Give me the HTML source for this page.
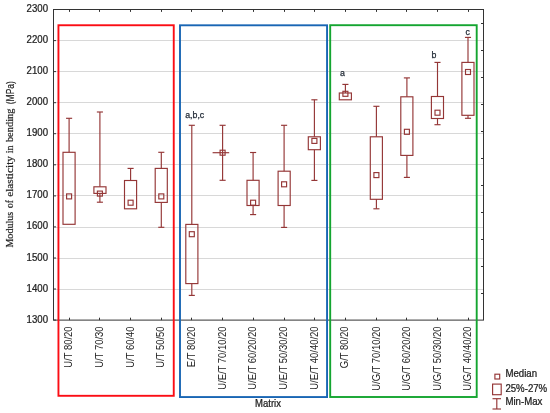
<!DOCTYPE html>
<html><head><meta charset="utf-8"><title>Modulus of elasticity in bending</title>
<style>html,body{margin:0;padding:0;background:#fff}svg{display:block}text{font-family:"Liberation Sans",Arial,sans-serif;fill:#222}</style></head><body>
<svg width="550" height="413" viewBox="0 0 550 413">
<rect width="550" height="413" fill="#ffffff"/>
<g stroke="#d8d8d8" stroke-width="1" shape-rendering="crispEdges">
<line x1="53.5" y1="40.5" x2="483.5" y2="40.5"/>
<line x1="53.5" y1="71.5" x2="483.5" y2="71.5"/>
<line x1="53.5" y1="102.5" x2="483.5" y2="102.5"/>
<line x1="53.5" y1="133.5" x2="483.5" y2="133.5"/>
<line x1="53.5" y1="164.5" x2="483.5" y2="164.5"/>
<line x1="53.5" y1="195.5" x2="483.5" y2="195.5"/>
<line x1="53.5" y1="227.5" x2="483.5" y2="227.5"/>
<line x1="53.5" y1="258.5" x2="483.5" y2="258.5"/>
<line x1="53.5" y1="289.5" x2="483.5" y2="289.5"/>
</g>
<rect x="53.5" y="9.5" width="430.0" height="310.6" fill="none" stroke="#333" stroke-width="1"/>
<g stroke="#333" stroke-width="1">
<line x1="53.5" y1="9.5" x2="56.0" y2="9.5"/>
<line x1="53.5" y1="40.6" x2="56.0" y2="40.6"/>
<line x1="53.5" y1="71.6" x2="56.0" y2="71.6"/>
<line x1="53.5" y1="102.7" x2="56.0" y2="102.7"/>
<line x1="53.5" y1="133.7" x2="56.0" y2="133.7"/>
<line x1="53.5" y1="164.8" x2="56.0" y2="164.8"/>
<line x1="53.5" y1="195.9" x2="56.0" y2="195.9"/>
<line x1="53.5" y1="226.9" x2="56.0" y2="226.9"/>
<line x1="53.5" y1="258.0" x2="56.0" y2="258.0"/>
<line x1="53.5" y1="289.0" x2="56.0" y2="289.0"/>
<line x1="53.5" y1="320.1" x2="56.0" y2="320.1"/>
<line x1="483.5" y1="23.5" x2="481.0" y2="23.5"/>
<line x1="483.5" y1="50.5" x2="481.0" y2="50.5"/>
<line x1="483.5" y1="77.5" x2="481.0" y2="77.5"/>
<line x1="483.5" y1="104.5" x2="481.0" y2="104.5"/>
<line x1="483.5" y1="131.5" x2="481.0" y2="131.5"/>
<line x1="483.5" y1="158.5" x2="481.0" y2="158.5"/>
<line x1="483.5" y1="185.5" x2="481.0" y2="185.5"/>
<line x1="483.5" y1="212.5" x2="481.0" y2="212.5"/>
<line x1="483.5" y1="239.5" x2="481.0" y2="239.5"/>
<line x1="483.5" y1="266.5" x2="481.0" y2="266.5"/>
<line x1="483.5" y1="293.5" x2="481.0" y2="293.5"/>
<line x1="69.5" y1="9.5" x2="69.5" y2="11.9"/>
<line x1="69.5" y1="320.1" x2="69.5" y2="317.70000000000005"/>
<line x1="99.5" y1="9.5" x2="99.5" y2="11.9"/>
<line x1="99.5" y1="320.1" x2="99.5" y2="317.70000000000005"/>
<line x1="130.5" y1="9.5" x2="130.5" y2="11.9"/>
<line x1="130.5" y1="320.1" x2="130.5" y2="317.70000000000005"/>
<line x1="161.5" y1="9.5" x2="161.5" y2="11.9"/>
<line x1="161.5" y1="320.1" x2="161.5" y2="317.70000000000005"/>
<line x1="191.5" y1="9.5" x2="191.5" y2="11.9"/>
<line x1="191.5" y1="320.1" x2="191.5" y2="317.70000000000005"/>
<line x1="222.5" y1="9.5" x2="222.5" y2="11.9"/>
<line x1="222.5" y1="320.1" x2="222.5" y2="317.70000000000005"/>
<line x1="253.5" y1="9.5" x2="253.5" y2="11.9"/>
<line x1="253.5" y1="320.1" x2="253.5" y2="317.70000000000005"/>
<line x1="284.5" y1="9.5" x2="284.5" y2="11.9"/>
<line x1="284.5" y1="320.1" x2="284.5" y2="317.70000000000005"/>
<line x1="314.5" y1="9.5" x2="314.5" y2="11.9"/>
<line x1="314.5" y1="320.1" x2="314.5" y2="317.70000000000005"/>
<line x1="345.5" y1="9.5" x2="345.5" y2="11.9"/>
<line x1="345.5" y1="320.1" x2="345.5" y2="317.70000000000005"/>
<line x1="376.5" y1="9.5" x2="376.5" y2="11.9"/>
<line x1="376.5" y1="320.1" x2="376.5" y2="317.70000000000005"/>
<line x1="406.5" y1="9.5" x2="406.5" y2="11.9"/>
<line x1="406.5" y1="320.1" x2="406.5" y2="317.70000000000005"/>
<line x1="437.5" y1="9.5" x2="437.5" y2="11.9"/>
<line x1="437.5" y1="320.1" x2="437.5" y2="317.70000000000005"/>
<line x1="468.5" y1="9.5" x2="468.5" y2="11.9"/>
<line x1="468.5" y1="320.1" x2="468.5" y2="317.70000000000005"/>
</g>
<g font-size="10" text-anchor="end" stroke="#222" stroke-width="0.25">
<text transform="translate(48,12.0) scale(0.965,1)">2300</text>
<text transform="translate(48,43.1) scale(0.965,1)">2200</text>
<text transform="translate(48,74.1) scale(0.965,1)">2100</text>
<text transform="translate(48,105.2) scale(0.965,1)">2000</text>
<text transform="translate(48,136.2) scale(0.965,1)">1900</text>
<text transform="translate(48,167.3) scale(0.965,1)">1800</text>
<text transform="translate(48,198.4) scale(0.965,1)">1700</text>
<text transform="translate(48,229.4) scale(0.965,1)">1600</text>
<text transform="translate(48,260.5) scale(0.965,1)">1500</text>
<text transform="translate(48,291.5) scale(0.965,1)">1400</text>
<text transform="translate(48,322.6) scale(0.965,1)">1300</text>
</g>
<g font-size="10" text-anchor="end">
<text transform="translate(72,326.4) rotate(-90) scale(0.945,1)">U/T 80/20</text>
<text transform="translate(103,326.4) rotate(-90) scale(0.945,1)">U/T 70/30</text>
<text transform="translate(134,326.4) rotate(-90) scale(0.945,1)">U/T 60/40</text>
<text transform="translate(164,326.4) rotate(-90) scale(0.945,1)">U/T 50/50</text>
<text transform="translate(195,326.4) rotate(-90) scale(0.945,1)">E/T 80/20</text>
<text transform="translate(226,326.4) rotate(-90) scale(0.945,1)">U/E/T 70/10/20</text>
<text transform="translate(256,326.4) rotate(-90) scale(0.945,1)">U/E/T 60/20/20</text>
<text transform="translate(287,326.4) rotate(-90) scale(0.945,1)">U/E/T 50/30/20</text>
<text transform="translate(318,326.4) rotate(-90) scale(0.945,1)">U/E/T 40/40/20</text>
<text transform="translate(348,326.4) rotate(-90) scale(0.945,1)">G/T 80/20</text>
<text transform="translate(380,326.4) rotate(-90) scale(0.945,1)">U/G/T 70/10/20</text>
<text transform="translate(410,326.4) rotate(-90) scale(0.945,1)">U/G/T 60/20/20</text>
<text transform="translate(441,326.4) rotate(-90) scale(0.945,1)">U/G/T 50/30/20</text>
<text transform="translate(471,326.4) rotate(-90) scale(0.945,1)">U/G/T 40/40/20</text>
</g>
<text transform="translate(255.0,406.5) scale(0.955,1)" font-size="10" stroke="#222" stroke-width="0.25">Matrix</text>
<g font-size="10.3" stroke="#222" stroke-width="0.2" style="font-family:'Liberation Serif','Times New Roman',serif">
<text transform="translate(13.3,247.6) rotate(-90)" textLength="35.8" lengthAdjust="spacingAndGlyphs" style="font-family:'Liberation Serif','Times New Roman',serif">Modulus</text>
<text transform="translate(13.3,207.9) rotate(-90)" textLength="7.8" lengthAdjust="spacingAndGlyphs" style="font-family:'Liberation Serif','Times New Roman',serif">of</text>
<text transform="translate(13.3,196.8) rotate(-90)" textLength="40.7" lengthAdjust="spacingAndGlyphs" style="font-family:'Liberation Serif','Times New Roman',serif">elasticity</text>
<text transform="translate(13.3,153.2) rotate(-90)" textLength="7.8" lengthAdjust="spacingAndGlyphs" style="font-family:'Liberation Serif','Times New Roman',serif">in</text>
<text transform="translate(13.3,142.1) rotate(-90)" textLength="33.6" lengthAdjust="spacingAndGlyphs" style="font-family:'Liberation Serif','Times New Roman',serif">bending</text>
</g>
<text transform="translate(13.5,104.3) rotate(-90)" font-size="10" stroke="#222" stroke-width="0.15" textLength="23.2" lengthAdjust="spacingAndGlyphs">(MPa)</text>
<rect x="58.45" y="25.25" width="115.3" height="370.55" fill="none" stroke="#fb0d14" stroke-width="1.9"/>
<rect x="180.0" y="25.3" width="147.05" height="371.75" fill="none" stroke="#1966b4" stroke-width="1.9"/>
<rect x="330.2" y="25.2" width="146.5" height="371.8" fill="none" stroke="#14a530" stroke-width="1.9"/>
<g stroke="#943636" stroke-width="1.15" fill="none">
<line x1="69.1" y1="118.3" x2="69.1" y2="152.3"/>
<line x1="66.05" y1="118.3" x2="72.14999999999999" y2="118.3"/>
<rect x="63.0" y="152.3" width="12.1" height="72.0"/>
<rect x="66.6" y="193.9" width="5.0" height="5.0"/>
<line x1="99.9" y1="112.0" x2="99.9" y2="186.8"/>
<line x1="96.85000000000001" y1="112.0" x2="102.95" y2="112.0"/>
<line x1="99.9" y1="193.4" x2="99.9" y2="202.2"/>
<line x1="96.85000000000001" y1="202.2" x2="102.95" y2="202.2"/>
<rect x="93.9" y="186.8" width="12.1" height="6.6"/>
<rect x="97.4" y="191.1" width="5.0" height="5.0"/>
<line x1="130.6" y1="168.4" x2="130.6" y2="180.5"/>
<line x1="127.55" y1="168.4" x2="133.65" y2="168.4"/>
<rect x="124.5" y="180.5" width="12.1" height="28.3"/>
<rect x="128.1" y="200.2" width="5.0" height="5.0"/>
<line x1="161.3" y1="152.3" x2="161.3" y2="168.4"/>
<line x1="158.25" y1="152.3" x2="164.35000000000002" y2="152.3"/>
<line x1="161.3" y1="202.4" x2="161.3" y2="227.3"/>
<line x1="158.25" y1="227.3" x2="164.35000000000002" y2="227.3"/>
<rect x="155.2" y="168.4" width="12.1" height="34.0"/>
<rect x="158.8" y="193.9" width="5.0" height="5.0"/>
<line x1="191.8" y1="125.3" x2="191.8" y2="224.4"/>
<line x1="188.75" y1="125.3" x2="194.85000000000002" y2="125.3"/>
<line x1="191.8" y1="283.6" x2="191.8" y2="295.4"/>
<line x1="188.75" y1="295.4" x2="194.85000000000002" y2="295.4"/>
<rect x="185.8" y="224.4" width="12.1" height="59.2"/>
<rect x="189.3" y="231.7" width="5.0" height="5.0"/>
<line x1="222.6" y1="125.3" x2="222.6" y2="152.7"/>
<line x1="219.54999999999998" y1="125.3" x2="225.65" y2="125.3"/>
<line x1="222.6" y1="152.7" x2="222.6" y2="180.3"/>
<line x1="219.54999999999998" y1="180.3" x2="225.65" y2="180.3"/>
<line x1="212.6" y1="152.7" x2="229.2" y2="152.7"/>
<rect x="220.1" y="150.2" width="5.0" height="5.0"/>
<line x1="253.1" y1="152.5" x2="253.1" y2="180.3"/>
<line x1="250.04999999999998" y1="152.5" x2="256.15" y2="152.5"/>
<line x1="253.1" y1="205.5" x2="253.1" y2="214.6"/>
<line x1="250.04999999999998" y1="214.6" x2="256.15" y2="214.6"/>
<rect x="247.0" y="180.3" width="12.1" height="25.2"/>
<rect x="250.6" y="200.2" width="5.0" height="5.0"/>
<line x1="284.1" y1="125.3" x2="284.1" y2="171.2"/>
<line x1="281.05" y1="125.3" x2="287.15000000000003" y2="125.3"/>
<line x1="284.1" y1="205.5" x2="284.1" y2="227.4"/>
<line x1="281.05" y1="227.4" x2="287.15000000000003" y2="227.4"/>
<rect x="278.1" y="171.2" width="12.1" height="34.3"/>
<rect x="281.6" y="181.8" width="5.0" height="5.0"/>
<line x1="314.4" y1="99.8" x2="314.4" y2="136.8"/>
<line x1="311.34999999999997" y1="99.8" x2="317.45" y2="99.8"/>
<line x1="314.4" y1="149.7" x2="314.4" y2="180.4"/>
<line x1="311.34999999999997" y1="180.4" x2="317.45" y2="180.4"/>
<rect x="308.3" y="136.8" width="12.1" height="12.9"/>
<rect x="311.9" y="138.4" width="5.0" height="5.0"/>
<line x1="345.4" y1="84.4" x2="345.4" y2="93.0"/>
<line x1="342.34999999999997" y1="84.4" x2="348.45" y2="84.4"/>
<rect x="339.3" y="93.0" width="12.1" height="6.8"/>
<rect x="342.9" y="91.3" width="5.0" height="5.0"/>
<line x1="376.4" y1="106.3" x2="376.4" y2="136.8"/>
<line x1="373.34999999999997" y1="106.3" x2="379.45" y2="106.3"/>
<line x1="376.4" y1="199.3" x2="376.4" y2="208.8"/>
<line x1="373.34999999999997" y1="208.8" x2="379.45" y2="208.8"/>
<rect x="370.3" y="136.8" width="12.1" height="62.5"/>
<rect x="373.9" y="172.6" width="5.0" height="5.0"/>
<line x1="406.9" y1="77.9" x2="406.9" y2="96.8"/>
<line x1="403.84999999999997" y1="77.9" x2="409.95" y2="77.9"/>
<line x1="406.9" y1="155.4" x2="406.9" y2="177.4"/>
<line x1="403.84999999999997" y1="177.4" x2="409.95" y2="177.4"/>
<rect x="400.8" y="96.8" width="12.1" height="58.6"/>
<rect x="404.4" y="129.3" width="5.0" height="5.0"/>
<line x1="437.5" y1="62.4" x2="437.5" y2="96.5"/>
<line x1="434.45" y1="62.4" x2="440.55" y2="62.4"/>
<line x1="437.5" y1="118.5" x2="437.5" y2="124.7"/>
<line x1="434.45" y1="124.7" x2="440.55" y2="124.7"/>
<rect x="431.4" y="96.5" width="12.1" height="22.0"/>
<rect x="435.0" y="110.2" width="5.0" height="5.0"/>
<line x1="468.0" y1="37.4" x2="468.0" y2="62.4"/>
<line x1="464.95" y1="37.4" x2="471.05" y2="37.4"/>
<line x1="468.0" y1="115.3" x2="468.0" y2="118.3"/>
<line x1="464.95" y1="118.3" x2="471.05" y2="118.3"/>
<rect x="461.9" y="62.4" width="12.1" height="52.9"/>
<rect x="465.5" y="69.5" width="5.0" height="5.0"/>
</g>
<g font-size="8.8" stroke="#232c38" stroke-width="0.25">
<text x="185.2" y="117.7" style="fill:#232c38">a,b,c</text>
<text x="340.0" y="75.6" style="fill:#232c38">a</text>
<text x="431.6" y="58" style="fill:#232c38">b</text>
<text x="465.4" y="34.8" style="fill:#232c38">c</text>
</g>
<g stroke="#943636" stroke-width="1.15" fill="none">
<rect x="494.9" y="374.2" width="4.8" height="4.8"/>
<rect x="492.6" y="384.1" width="8.6" height="10.6"/>
<line x1="496.8" y1="398.7" x2="496.8" y2="409"/><line x1="492.5" y1="398.7" x2="501" y2="398.7"/><line x1="492.5" y1="409" x2="501" y2="409"/>
</g>
<g font-size="10" stroke="#222" stroke-width="0.25">
<text transform="translate(505.4,377.0) scale(0.965,1)">Median</text>
<text transform="translate(505.4,391.6) scale(0.965,1)">25%-27%</text>
<text transform="translate(505.4,404.9) scale(0.965,1)">Min-Max</text>
</g>
</svg></body></html>
